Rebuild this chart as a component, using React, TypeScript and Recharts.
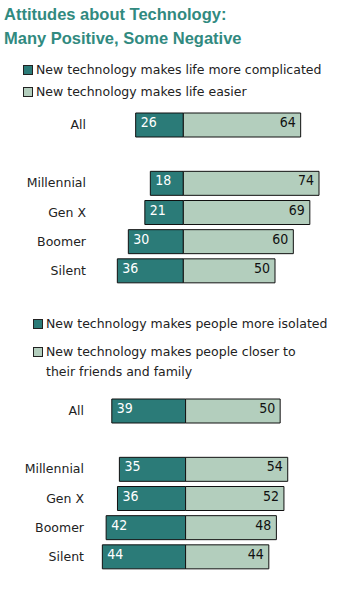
import { BarChart, Bar, XAxis, YAxis, LabelList } from "recharts";

// shared categories (blank row is the gap between "All" and the generations)
const groups = ["All", "", "Millennial", "Gen X", "Boomer", "Silent"];

// panel 1: life more complicated vs. life easier
const complicated = [26, null, 18, 21, 30, 36];
const easier = [64, null, 74, 69, 60, 50];

// panel 2: people more isolated vs. closer to friends and family
const isolated = [39, null, 35, 36, 42, 44];
const closer = [50, null, 54, 52, 48, 44];

const legendTop = ["New technology makes life more complicated", "New technology makes life easier"];
const legendBottom = [
  "New technology makes people more isolated",
  "New technology makes people closer to\ntheir friends and family",
];

const DARK = "#2b7b78";
const LIGHT = "#b3cebd";
const TITLE = "#318a80";
const TEXT_FONT = '"DejaVu Sans", Verdana, sans-serif';
const NUM_FONT = '"Liberation Sans Narrow", "DejaVu Sans Condensed", sans-serif';

const buildRows = (neg: (number | null)[], pos: (number | null)[]) =>
  groups.map((g, i) => ({
    group: g,
    neg: neg[i] == null ? null : -(neg[i] as number),
    pos: pos[i],
  }));

// eslint-disable-next-line @typescript-eslint/no-explicit-any
const darkLabel = (props: any) => {
  const { x, y, width, height, value } = props;
  if (value == null) return null;
  const left = Math.min(x, x + width);
  return (
    <text x={left + 5} y={y + height / 2 + 2} fill="#fff" fontFamily={NUM_FONT} fontSize={14} textAnchor="start">
      {Math.abs(value)}
    </text>
  );
};

// eslint-disable-next-line @typescript-eslint/no-explicit-any
const lightLabel = (props: any) => {
  const { x, y, width, height, value } = props;
  if (value == null) return null;
  const right = Math.max(x, x + width);
  return (
    <text x={right - 5} y={y + height / 2 + 2} fill="#111" fontFamily={NUM_FONT} fontSize={14} textAnchor="end">
      {value}
    </text>
  );
};

function Legend({ items, left, tops }: { items: string[]; left: number; tops: number[] }) {
  return (
    <>
      {items.map((label, i) => (
        <div
          key={label}
          style={{
            position: "absolute",
            left,
            top: tops[i],
            fontFamily: TEXT_FONT,
            fontSize: 12.5,
            lineHeight: "19.5px",
            color: "#222",
            whiteSpace: "pre",
          }}
        >
          <span
            style={{
              position: "absolute",
              left: -13,
              top: 5,
              width: 8,
              height: 8,
              background: i === 0 ? DARK : LIGHT,
              border: "1px solid #222",
            }}
          />
          {label}
        </div>
      ))}
    </>
  );
}

function Panel({
  data,
  top,
  width,
  axisWidth,
  domain,
  tickMargin,
}: {
  data: ReturnType<typeof buildRows>;
  top: number;
  width: number;
  axisWidth: number;
  domain: [number, number];
  tickMargin: number;
}) {
  return (
    <div style={{ position: "absolute", left: 0, top }}>
      <BarChart
        layout="vertical"
        width={width}
        height={175}
        data={data}
        stackOffset="sign"
        margin={{ top: 0, right: 0, bottom: 0, left: 0 }}
      >
        <XAxis type="number" domain={domain} hide allowDataOverflow />
        <YAxis
          type="category"
          dataKey="group"
          width={axisWidth}
          axisLine={false}
          tickLine={false}
          tickMargin={tickMargin}
          interval={0}
          tick={{ fontFamily: TEXT_FONT, fontSize: 12.5, fill: "#222" }}
        />
        <Bar dataKey="neg" stackId="a" fill={DARK} stroke="#111" strokeWidth={1} barSize={24} isAnimationActive={false}>
          <LabelList dataKey="neg" content={darkLabel} />
        </Bar>
        <Bar dataKey="pos" stackId="a" fill={LIGHT} stroke="#111" strokeWidth={1} barSize={24} isAnimationActive={false}>
          <LabelList dataKey="pos" content={lightLabel} />
        </Bar>
      </BarChart>
    </div>
  );
}

export default function App() {
  return (
    <div style={{ position: "absolute", left: 0, top: 0, width: 359, height: 602, background: "#fff", overflow: "hidden" }}>
      <div
        style={{
          position: "absolute",
          left: 4,
          top: 2,
          fontFamily: '"Liberation Sans", Arial, sans-serif',
          fontWeight: "bold",
          fontSize: 16.5,
          lineHeight: "24px",
          color: TITLE,
        }}
      >
        Attitudes about Technology:
        <br />
        Many Positive, Some Negative
      </div>

      <Legend items={legendTop} left={36} tops={[60, 82]} />
      <Panel data={buildRows(complicated, easier)} top={110} width={330} axisWidth={110} domain={[-40, 80]} tickMargin={18} />

      <Legend items={legendBottom} left={46} tops={[314, 342]} />
      <Panel data={buildRows(isolated, closer)} top={396} width={318} axisWidth={91} domain={[-50, 70]} tickMargin={1} />
    </div>
  );
}
